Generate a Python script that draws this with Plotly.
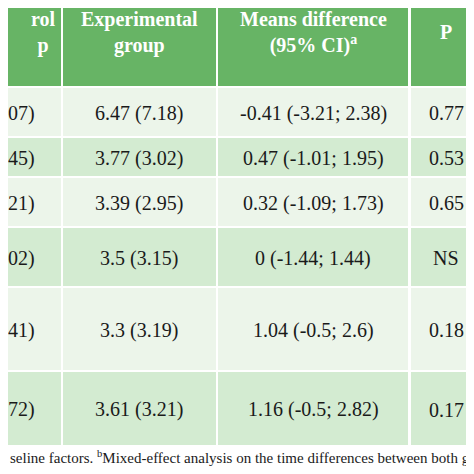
import plotly.graph_objects as go

headers = ["rol<br>p", "Experimental<br>group", "Means difference<br>(95% CI)<sup>a</sup>", "P"]
control = [".07)", ".45)", ".21)", ".02)", ".41)", ".72)"]
experimental = ["6.47 (7.18)", "3.77 (3.02)", "3.39 (2.95)", "3.5 (3.15)", "3.3 (3.19)", "3.61 (3.21)"]
mean_diff = ["-0.41 (-3.21; 2.38)", "0.47 (-1.01; 1.95)", "0.32 (-1.09; 1.73)",
             "0 (-1.44; 1.44)", "1.04 (-0.5; 2.6)", "1.16 (-0.5; 2.82)"]
p_values = ["0.77", "0.53", "0.65", "NS", "0.18", "0.17"]
footnote = "seline factors. <sup>b</sup>Mixed-effect analysis on the time differences between both groups"

cols = [(-20, 53), (55, 208), (210, 400), (403, 500)]
col_text_x = [30, 131, 305, 438]
row_edges = [(80, 128), (130, 168), (170, 218), (220, 278), (280, 362), (364, 437)]
header_y = (-5, 78)
row_colors = ["#ecf5ea", "#d3ebd1"]

fig = go.Figure()
shapes = []
ann = []
font = "Liberation Serif"
for ci, (x0, x1) in enumerate(cols):
    shapes.append(dict(type="rect", x0=x0, x1=x1, y0=header_y[0], y1=header_y[1],
                       fillcolor="#67b465", line=dict(width=0), layer="below"))
    ann.append(dict(x=col_text_x[ci] if ci else 50, y=24, text="<b>" + headers[ci] + "</b>",
                    showarrow=False, xanchor="right" if ci == 0 else "center",
                    font=dict(family=font, size=20, color="white"), align="center"))
columns = [control, experimental, mean_diff, p_values]
for ri, (y0, y1) in enumerate(row_edges):
    for ci, (x0, x1) in enumerate(cols):
        shapes.append(dict(type="rect", x0=x0, x1=x1, y0=y0, y1=y1,
                           fillcolor=row_colors[ri % 2], line=dict(width=0), layer="below"))
        ann.append(dict(x=col_text_x[ci] if ci else 29, y=(y0 + y1) / 2 + 1, text=columns[ci][ri],
                        showarrow=False, xanchor="right" if ci == 0 else "center",
                        font=dict(family=font, size=20, color="#1a1a1a")))
ann.append(dict(x=0, y=449, text=footnote, showarrow=False, xanchor="left",
                font=dict(family=font, size=15, color="#1a1a1a")))

fig.update_layout(width=474, height=474, margin=dict(l=0, r=0, t=0, b=0),
                  plot_bgcolor="white", paper_bgcolor="white", shapes=shapes, annotations=ann,
                  xaxis=dict(range=[0, 474], visible=False, fixedrange=True),
                  yaxis=dict(range=[474, 0], visible=False, fixedrange=True),
                  showlegend=False)
fig.write_html("out.html")
